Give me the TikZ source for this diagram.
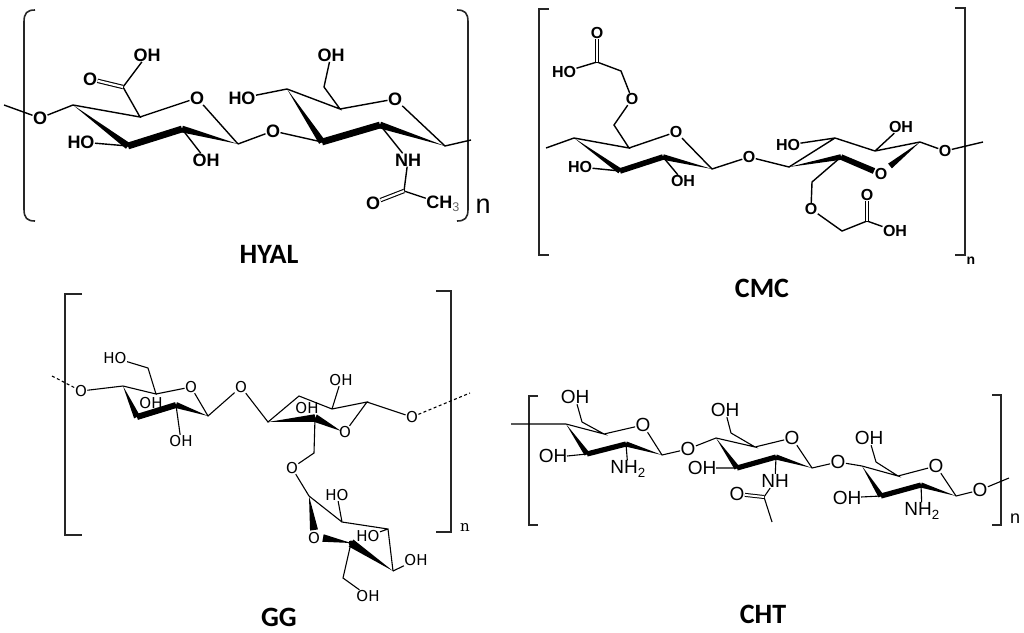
\documentclass[tikz,border=0pt]{standalone}
\usepackage{fontspec}
\setmainfont{Liberation Sans}
\newfontfamily\cali{Carlito}
\newfontfamily\dvs{DejaVu Sans}
\newfontfamily\dvserif{DejaVu Serif}
\usetikzlibrary{calc}
\newcommand{\fsz}[1]{\fontsize{#1}{#1}\selectfont}
\tikzset{
  atom/.style={inner sep=0.3pt,text=black},
  ha/.style={atom,font=\fsz{18}\bfseries},
  ca/.style={atom,font=\fsz{16}\bfseries},
  ga/.style={atom,font=\fsz{15}\dvs},
  ta/.style={atom,font=\fsz{19}},
  title/.style={inner sep=0pt,font=\cali\bfseries\fsz{28}},
  brk/.style={line width=1.5pt,color=black!85},
  hbond/.style={line width=1.4pt},
  cbond/.style={line width=1.4pt},
  gbond/.style={line width=1.1pt},
  tbond/.style={line width=1.1pt},
  dblb/.style={double,double distance=2.2pt,line width=1.1pt},
}
\newcommand{\wdg}[3]{\fill[black,line join=round] (#1) -- ($(#2)!#3pt!90:(#1)$) -- ($(#2)!#3pt!-90:(#1)$) -- cycle;}
\newcommand{\band}[4]{\fill[black,line join=round] ($(#1)!#3pt!90:(#2)$) -- ($(#1)!#3pt!-90:(#2)$) -- ($(#2)!#4pt!90:(#1)$) -- ($(#2)!#4pt!-90:(#1)$) -- cycle;}
\begin{document}
\begin{tikzpicture}[x=1pt,y=-1pt]
\useasboundingbox (0,0) rectangle (1024,632);
% ------------- HYAL
\draw[brk,line width=1.6pt] (35,10) .. controls (27,10) and (24,13) .. (24,22) -- (24,209) .. controls (24,218) and (27,221) .. (35,221);
\draw[brk,line width=1.6pt] (457,10) .. controls (465,10) and (468,13) .. (468,22) -- (468,209) .. controls (468,218) and (465,221) .. (457,221);
\node[inner sep=0pt,font=\fsz{27}] (hn) at (483,206) {n};
\node[title] (hyal) at (269,254) {HYAL};
\coordinate (hs) at (4,105);
\node[ha] (hO1) at (40,118) {O};
\coordinate (hC4) at (73,105);
\coordinate (hC5) at (140,117);
\coordinate (hC6) at (123,87);
\node[ha] (hO6) at (90,79) {O};
\node[ha] (hOH6) at (147,55) {OH};
\node[ha] (hOr) at (197,98) {O};
\coordinate (hC1) at (238,144);
\coordinate (hC2) at (182,129);
\coordinate (hC3) at (128,146);
\node[ha] (hHO3) at (81,142) {HO};
\node[ha] (hOH2) at (206,160) {OH};
\node[ha] (hOl) at (273,131) {O};
\coordinate (hD4) at (322,142);
\coordinate (hD3) at (287,89);
\node[ha] (hHOd) at (242,98) {HO};
\coordinate (hD5) at (340,109);
\coordinate (hD6) at (324,87);
\node[ha] (hOHd) at (331,55) {OH};
\node[ha] (hOs) at (395,99) {O};
\coordinate (hD1) at (445,146);
\coordinate (hD2) at (380,125);
\node[ha] (hNH) at (408,160) {NH};
\coordinate (hCa) at (404,191);
\node[ha] (hOa) at (373,203) {O};
\node[ha] (hMe) at (443,204) {CH\textsubscript{\color{black!60}\mdseries 3}};
\coordinate (he) at (471,140);
\draw[hbond] (hs)--(hO1) (hO1)--(hC4)--(hC5)--(hC6) (hC5)--(hOr) (hOr)--(hC1) (hC6)--(hOH6)
  (hC3)--(hHO3) (hC2)--(hOH2) (hC1)--(hOl) (hOl)--(hD4) (hD3)--(hHOd) (hD3)--(hD5)--(hD6)--(hOHd) (hD5)--(hOs) (hOs)--(hD1)--(he) (hD2)--(hNH) (hNH)--(hCa)--(hMe);
\draw[dblb] (hC6)--(hO6) (hCa)--(hOa);
\wdg{hC4}{hC3}{3.4}\band{hC3}{hC2}{3.4}{3.4}\wdg{hC1}{hC2}{3.4}
\wdg{hD3}{hD4}{3.4}\band{hD4}{hD2}{3.4}{3.4}\wdg{hD1}{hD2}{3.4}
% ------------- CMC
\draw[brk] (549,9) -- (539,9) -- (539,255) -- (549,255);
\draw[brk] (955,8) -- (965,8) -- (965,255) -- (955,255);
\node[inner sep=0pt,font=\fsz{14}\bfseries] (cn) at (971,261) {n};
\node[title] (cmc) at (762,288) {CMC};
\coordinate (cs) at (546,148);
\coordinate (cC4) at (574,138);
\coordinate (cC5) at (629,148);
\coordinate (cC3) at (620,171);
\coordinate (cC2) at (663,157);
\coordinate (cC1) at (712,169);
\node[ca] (cOr) at (676,132) {O};
\coordinate (cC6) at (614,125);
\node[ca] (cO6) at (632,99) {O};
\coordinate (cC7) at (621,71);
\coordinate (cC8) at (597,62);
\node[ca] (cO8) at (597,33) {O};
\node[ca] (cHO8) at (564,72) {HO};
\node[ca] (cHO3) at (580,167) {HO};
\node[ca] (cOH2) at (683,181) {OH};
\node[ca] (cOl) at (749,157) {O};
\coordinate (cD4) at (789,167);
\coordinate (cD3) at (835,138);
\coordinate (cD2) at (875,151);
\coordinate (cD1) at (920,142);
\coordinate (cD5) at (841,157);
\node[ca] (cOs) at (881,174) {O};
\node[ca] (cHOd) at (788,145) {HO};
\node[ca] (cOHd) at (901,127) {OH};
\node[ca] (cOx) at (945,151) {O};
\coordinate (ce) at (983,142);
\coordinate (cD6) at (812,182);
\node[ca] (cO9) at (811,209) {O};
\coordinate (cD7) at (842,231);
\coordinate (cD8) at (867,221);
\node[ca] (cOa) at (867,195) {O};
\node[ca] (cOHa) at (895,231) {OH};
\coordinate (cOsb) at (874,171);
\coordinate (cOsc) at (890,166);
\draw[cbond] (cs)--(cC4)--(cC5)--(cC6)--(cO6) (cO6)--(cC7)--(cC8)--(cHO8) (cC5)--(cOr) (cOr)--(cC1)--(cOl) (cC3)--(cHO3) (cC2)--(cOH2)
  (cOl)--(cD4)--(cD3)--(cD2)--(cD1)--(cOx) (cOx)--(ce) (cD3)--(cHOd) (cD2)--(cOHd) (cD5)--(cD6)--(cO9) (cO9)--(cD7)--(cD8)--(cOHa);
\draw[dblb] (cC8)--(cO8) (cD8)--(cOa);
\wdg{cC4}{cC3}{2.8}\band{cC3}{cC2}{2.8}{2.8}\wdg{cC1}{cC2}{2.8}
\wdg{cD4}{cD5}{2.8}\band{cD5}{cOsb}{2.8}{3}\wdg{cD1}{cOsc}{3}
% ------------- GG
\draw[brk,line width=1.3pt] (82,294) -- (65,294) -- (65,535) -- (82,535);
\draw[brk,line width=1.3pt] (436,291) -- (451,291) -- (451,532) -- (436,532);
\node[inner sep=0pt,font=\fsz{15}\dvserif] (gn) at (465,527) {n};
\node[title] (gg) at (279,617) {GG};
\coordinate (gs) at (52,376);
\node[ga] (gO1) at (81,391) {O};
\coordinate (gC4) at (123,386);
\coordinate (gC5) at (156,394);
\coordinate (gC6) at (148,368);
\node[ga] (gHO6) at (115,358) {HO};
\node[ga] (gOr) at (191,387) {O};
\coordinate (gC1) at (208,416);
\coordinate (gC2) at (176,405);
\coordinate (gC3) at (137,417);
\node[ga] (gOH3) at (151,403) {OH};
\node[ga] (gOH2) at (181,441) {OH};
\node[ga] (gOl) at (241,387) {O};
\coordinate (gD1) at (268,422);
\coordinate (gD2) at (299,396);
\coordinate (gD3) at (332,409);
\coordinate (gD4) at (367,402);
\node[ga] (gOs) at (345,432) {O};
\coordinate (gD5) at (315,418);
\node[ga] (gOHa) at (341,380) {OH};
\node[ga] (gOHb) at (307,408) {OH};
\node[ga] (gOx) at (412,417) {O};
\coordinate (ge) at (470,393);
\coordinate (gD6) at (314,453);
\node[ga] (gO7) at (292,468) {O};
\coordinate (gE1) at (309,496);
\coordinate (gE2) at (342,522);
\node[ga] (gHO2) at (337,495) {HO};
\coordinate (gE3) at (388,529);
\node[ga] (gHO3) at (368,536) {HO};
\coordinate (gE4) at (393,571);
\node[ga] (gOH4) at (416,560) {OH};
\coordinate (gE5) at (351,543);
\node[ga] (gO8) at (314,538) {O};
\coordinate (gE6) at (343,578);
\node[ga] (gOH6) at (368,596) {OH};
\coordinate (gOm) at (341,431);
\coordinate (gO8u) at (314,530);
\coordinate (gO8r) at (323,538);
\draw[gbond] (gO1)--(gC4)--(gC5)--(gC6)--(gHO6) (gC5)--(gOr) (gOr)--(gC1)--(gOl) (gC2)--(gOH2) (gOl)--(gD1)--(gD2)--(gD3)--(gD4)--(gOs) (gD4)--(gOx) (gD3)--(gOHa) (gD5)--(gD6)--(gO7) (gO7)--(gE1)--(gE2)--(gE3)--(gE4) (gE2)--(gHO2) (gE3)--(gHO3) (gE4)--(gOH4) (gE5)--(gE6)--(gOH6);
\draw[gbond,dashed,dash pattern=on 3pt off 2.5pt] (gs)--(gO1) (gOx)--(ge);
\wdg{gC4}{gC3}{3.2}\band{gC3}{gC2}{3}{3}\wdg{gC1}{gC2}{3}
\wdg{gD1}{gD5}{3.8}\wdg{gOm}{gD5}{4}
\wdg{gE1}{gO8u}{4}\wdg{gE4}{gE5}{4.2}\wdg{gE5}{gO8r}{3.8}\fill (gE5) circle (2.5pt);
% ------------- CHT
\draw[brk,line width=1.1pt] (538,396) -- (529,396) -- (529,525) -- (538,525);
\draw[brk,line width=1.1pt] (992,395) -- (1001,395) -- (1001,525) -- (992,525);
\node[inner sep=0pt,font=\fsz{18}] (tn) at (1015,519) {n};
\node[title] (cht) at (763,614) {CHT};
\coordinate (ts) at (511,424);
\coordinate (tA4) at (566,424);
\coordinate (tA5) at (604,434);
\coordinate (tA6) at (582,422);
\node[ta] (tOHa) at (575,397) {OH};
\node[ta] (tOa) at (643,425) {O};
\coordinate (tA1) at (662,455);
\coordinate (tA2) at (626,444);
\coordinate (tA3) at (587,454);
\node[ta] (tOH3a) at (553,456) {OH};
\node[ta] (tNa) at (628,469) {NH\textsubscript{2}};
\node[ta] (tOl1) at (688,449) {O};
\coordinate (tB4) at (716,438);
\coordinate (tB5) at (755,447);
\coordinate (tB6) at (731,433);
\node[ta] (tOHb) at (725,410) {OH};
\node[ta] (tOb) at (792,438) {O};
\coordinate (tB1) at (812,468);
\coordinate (tB2) at (776,457);
\coordinate (tB3) at (737,468);
\node[ta] (tOH3b) at (702,468) {OH};
\node[ta] (tNH) at (775,481) {NH};
\coordinate (tCa) at (764,497);
\node[ta] (tOc) at (737,494) {O};
\coordinate (tMe) at (772,522);
\node[ta] (tOl2) at (838,462) {O};
\coordinate (tC4) at (862,466);
\coordinate (tC5) at (898,476);
\coordinate (tC6) at (876,462);
\node[ta] (tOHc) at (869,438) {OH};
\node[ta] (tOr) at (936,466) {O};
\coordinate (tC1) at (956,496);
\coordinate (tC2) at (921,485);
\coordinate (tC3) at (881,496);
\node[ta] (tOH3c) at (847,498) {OH};
\node[ta] (tNc) at (922,511) {NH\textsubscript{2}};
\node[ta] (tOe) at (980,490) {O};
\coordinate (te) at (1009,478);
\coordinate (tOH3ar) at (567,456);
\coordinate (tOH3br) at (716,468);
\coordinate (tOH3cr) at (861,497);
\draw[tbond] (ts)--(tA4)--(tA5)--(tA6)--(tOHa) (tA5)--(tOa) (tOa)--(tA1)--(tOl1) (tA3)--(tOH3ar) (tA2)--(tNa) (tOl1)--(tB4)--(tB5)--(tB6)--(tOHb) (tB5)--(tOb) (tOb)--(tB1)--(tOl2) (tB3)--(tOH3br) (tB2)--(tNH) (tNH)--(tCa)--(tMe) (tOl2)--(tC4)--(tC5)--(tC6)--(tOHc) (tC5)--(tOr) (tOr)--(tC1)--(tOe) (tC3)--(tOH3cr) (tC2)--(tNc) (tOe)--(te);
\draw[dblb,line width=1pt,double distance=2pt] (tCa)--(tOc);
\wdg{tA4}{tA3}{2.8}\band{tA3}{tA2}{2.6}{2.6}\wdg{tA1}{tA2}{2.6}
\wdg{tB4}{tB3}{2.8}\band{tB3}{tB2}{2.6}{2.6}\wdg{tB1}{tB2}{2.6}
\wdg{tC4}{tC3}{2.8}\band{tC3}{tC2}{2.6}{2.6}\wdg{tC1}{tC2}{2.6}
\end{tikzpicture}
\end{document}
